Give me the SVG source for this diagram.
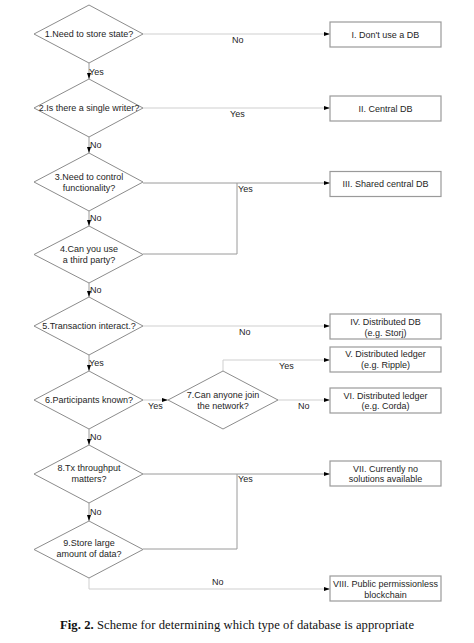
<svg xmlns="http://www.w3.org/2000/svg" width="474" height="643" viewBox="0 0 474 643">
<style>
.d{fill:#fff;stroke:#8c8c8c;stroke-width:1}
.b{fill:#fff;stroke:#9a9a9a;stroke-width:1.2}
.t{font-family:"Liberation Sans",Arial,sans-serif;font-size:9px;fill:#1e1e1e;text-anchor:middle}
.l{font-family:"Liberation Sans",Arial,sans-serif;font-size:9px;fill:#1e1e1e}
.c{fill:none;stroke:#cfcfcf;stroke-width:1}
.c2{fill:none;stroke:#9a9a9a;stroke-width:1}
.cap{font-family:"Liberation Serif","Times New Roman",serif;font-size:12.6px;fill:#111}
</style>
<defs>
<marker id="ah" viewBox="0 0 6 4" refX="6" refY="2" markerWidth="6" markerHeight="4" markerUnits="userSpaceOnUse" orient="auto">
<path d="M0,0 L6,2 L0,4 Z" fill="#000"/>
</marker>
</defs>
<rect width="474" height="643" fill="#fff"/>
<g id="connectors">
<path class="c" d="M143,34 H330" marker-end="url(#ah)"/>
<path class="c2" d="M89,63 V79" marker-end="url(#ah)"/>
<path class="c" d="M143,108 H330" marker-end="url(#ah)"/>
<path class="c2" d="M89,137 V153" marker-end="url(#ah)"/>
<path class="c2" d="M143,183 H330" marker-end="url(#ah)"/>
<path class="c2" d="M143,254 H237 V183"/>
<path class="c2" d="M89,211 V226" marker-end="url(#ah)"/>
<path class="c2" d="M89,283 V297" marker-end="url(#ah)"/>
<path class="c" d="M143,326 H330" marker-end="url(#ah)"/>
<path class="c2" d="M89,355 V371" marker-end="url(#ah)"/>
<path class="c" d="M143,400 H168" marker-end="url(#ah)"/>
<path class="c" d="M223,371 V360 H330" marker-end="url(#ah)"/>
<path class="c" d="M278,400 H330" marker-end="url(#ah)"/>
<path class="c2" d="M89,429 V445" marker-end="url(#ah)"/>
<path class="c2" d="M143,474 H330" marker-end="url(#ah)"/>
<path class="c2" d="M143,549 H237 V474"/>
<path class="c2" d="M89,503 V521" marker-end="url(#ah)"/>
<path class="c" d="M89,578 V589 H330" marker-end="url(#ah)"/>
<text class="l" x="232" y="43">No</text>
<text class="l" x="89" y="75">Yes</text>
<text class="l" x="230" y="117">Yes</text>
<text class="l" x="90" y="148">No</text>
<text class="l" x="238" y="192">Yes</text>
<text class="l" x="90" y="221">No</text>
<text class="l" x="90" y="293">No</text>
<text class="l" x="239" y="335">No</text>
<text class="l" x="89" y="366">Yes</text>
<text class="l" x="148" y="409">Yes</text>
<text class="l" x="279" y="369">Yes</text>
<text class="l" x="298" y="409">No</text>
<text class="l" x="90" y="440">No</text>
<text class="l" x="238" y="482">Yes</text>
<text class="l" x="90" y="515">No</text>
<text class="l" x="212" y="585">No</text>
</g>
<g id="q1"><polygon class="d" points="89,5 143,34 89,63 34,34"/><text class="t" x="89" y="37.2">1.Need to store state?</text></g>
<g id="q2"><polygon class="d" points="89,79 143,108 89,137 34,108"/><text class="t" x="89" y="111.2">2.Is there a single writer?</text></g>
<g id="q3"><polygon class="d" points="89,153 143,182 89,211 34,182"/><text class="t" x="89" y="180.2">3.Need to control</text><text class="t" x="89" y="190.7">functionality?</text></g>
<g id="q4"><polygon class="d" points="89,226 143,254.5 89,283 34,254.5"/><text class="t" x="89" y="252.2">4.Can you use</text><text class="t" x="89" y="263">a third party?</text></g>
<g id="q5"><polygon class="d" points="89,297 143,326 89,355 34,326"/><text class="t" x="89" y="329.2">5.Transaction interact.?</text></g>
<g id="q6"><polygon class="d" points="89,371 143,400 89,429 34,400"/><text class="t" x="89" y="403.2">6.Participants known?</text></g>
<g id="q7"><polygon class="d" points="223,371 278,400 223,429 168,400"/><text class="t" x="223" y="398.2">7.Can anyone join</text><text class="t" x="223" y="409">the network?</text></g>
<g id="q8"><polygon class="d" points="89,445 143,474 89,503 34,474"/><text class="t" x="89" y="471.2">8.Tx throughput</text><text class="t" x="89" y="482">matters?</text></g>
<g id="q9"><polygon class="d" points="89,521 143,549.5 89,578 34,549.5"/><text class="t" x="89" y="546.2">9.Store large</text><text class="t" x="89" y="557">amount of data?</text></g>
<g id="r1"><rect class="b" x="330" y="22" width="111" height="25"/><text class="t" x="385.5" y="37.5">I. Don't use a DB</text></g>
<g id="r2"><rect class="b" x="330" y="96" width="111" height="25"/><text class="t" x="385.5" y="111.5">II. Central DB</text></g>
<g id="r3"><rect class="b" x="330" y="171.5" width="111" height="25"/><text class="t" x="385.5" y="187">III. Shared central DB</text></g>
<g id="r4"><rect class="b" x="330" y="314" width="111" height="25"/><text class="t" x="385.5" y="325">IV. Distributed DB</text><text class="t" x="385.5" y="335.6">(e.g. Storj)</text></g>
<g id="r5"><rect class="b" x="330" y="347" width="111" height="25"/><text class="t" x="385.5" y="357.3">V. Distributed ledger</text><text class="t" x="385.5" y="368.2">(e.g. Ripple)</text></g>
<g id="r6"><rect class="b" x="330" y="388" width="111" height="25"/><text class="t" x="385.5" y="398.9">VI. Distributed ledger</text><text class="t" x="385.5" y="409.3">(e.g. Corda)</text></g>
<g id="r7"><rect class="b" x="330" y="461" width="111" height="25"/><text class="t" x="385.5" y="471.5">VII. Currently no</text><text class="t" x="385.5" y="482.2">solutions available</text></g>
<g id="r8"><rect class="b" x="330" y="576" width="111" height="25"/><text class="t" x="385.5" y="587.2">VIII. Public permissionless</text><text class="t" x="385.5" y="597.5">blockchain</text></g>
<text class="cap" x="60" y="629" textLength="354" lengthAdjust="spacing"><tspan font-weight="bold">Fig. 2.</tspan> Scheme for determining which type of database is appropriate</text>
</svg>
